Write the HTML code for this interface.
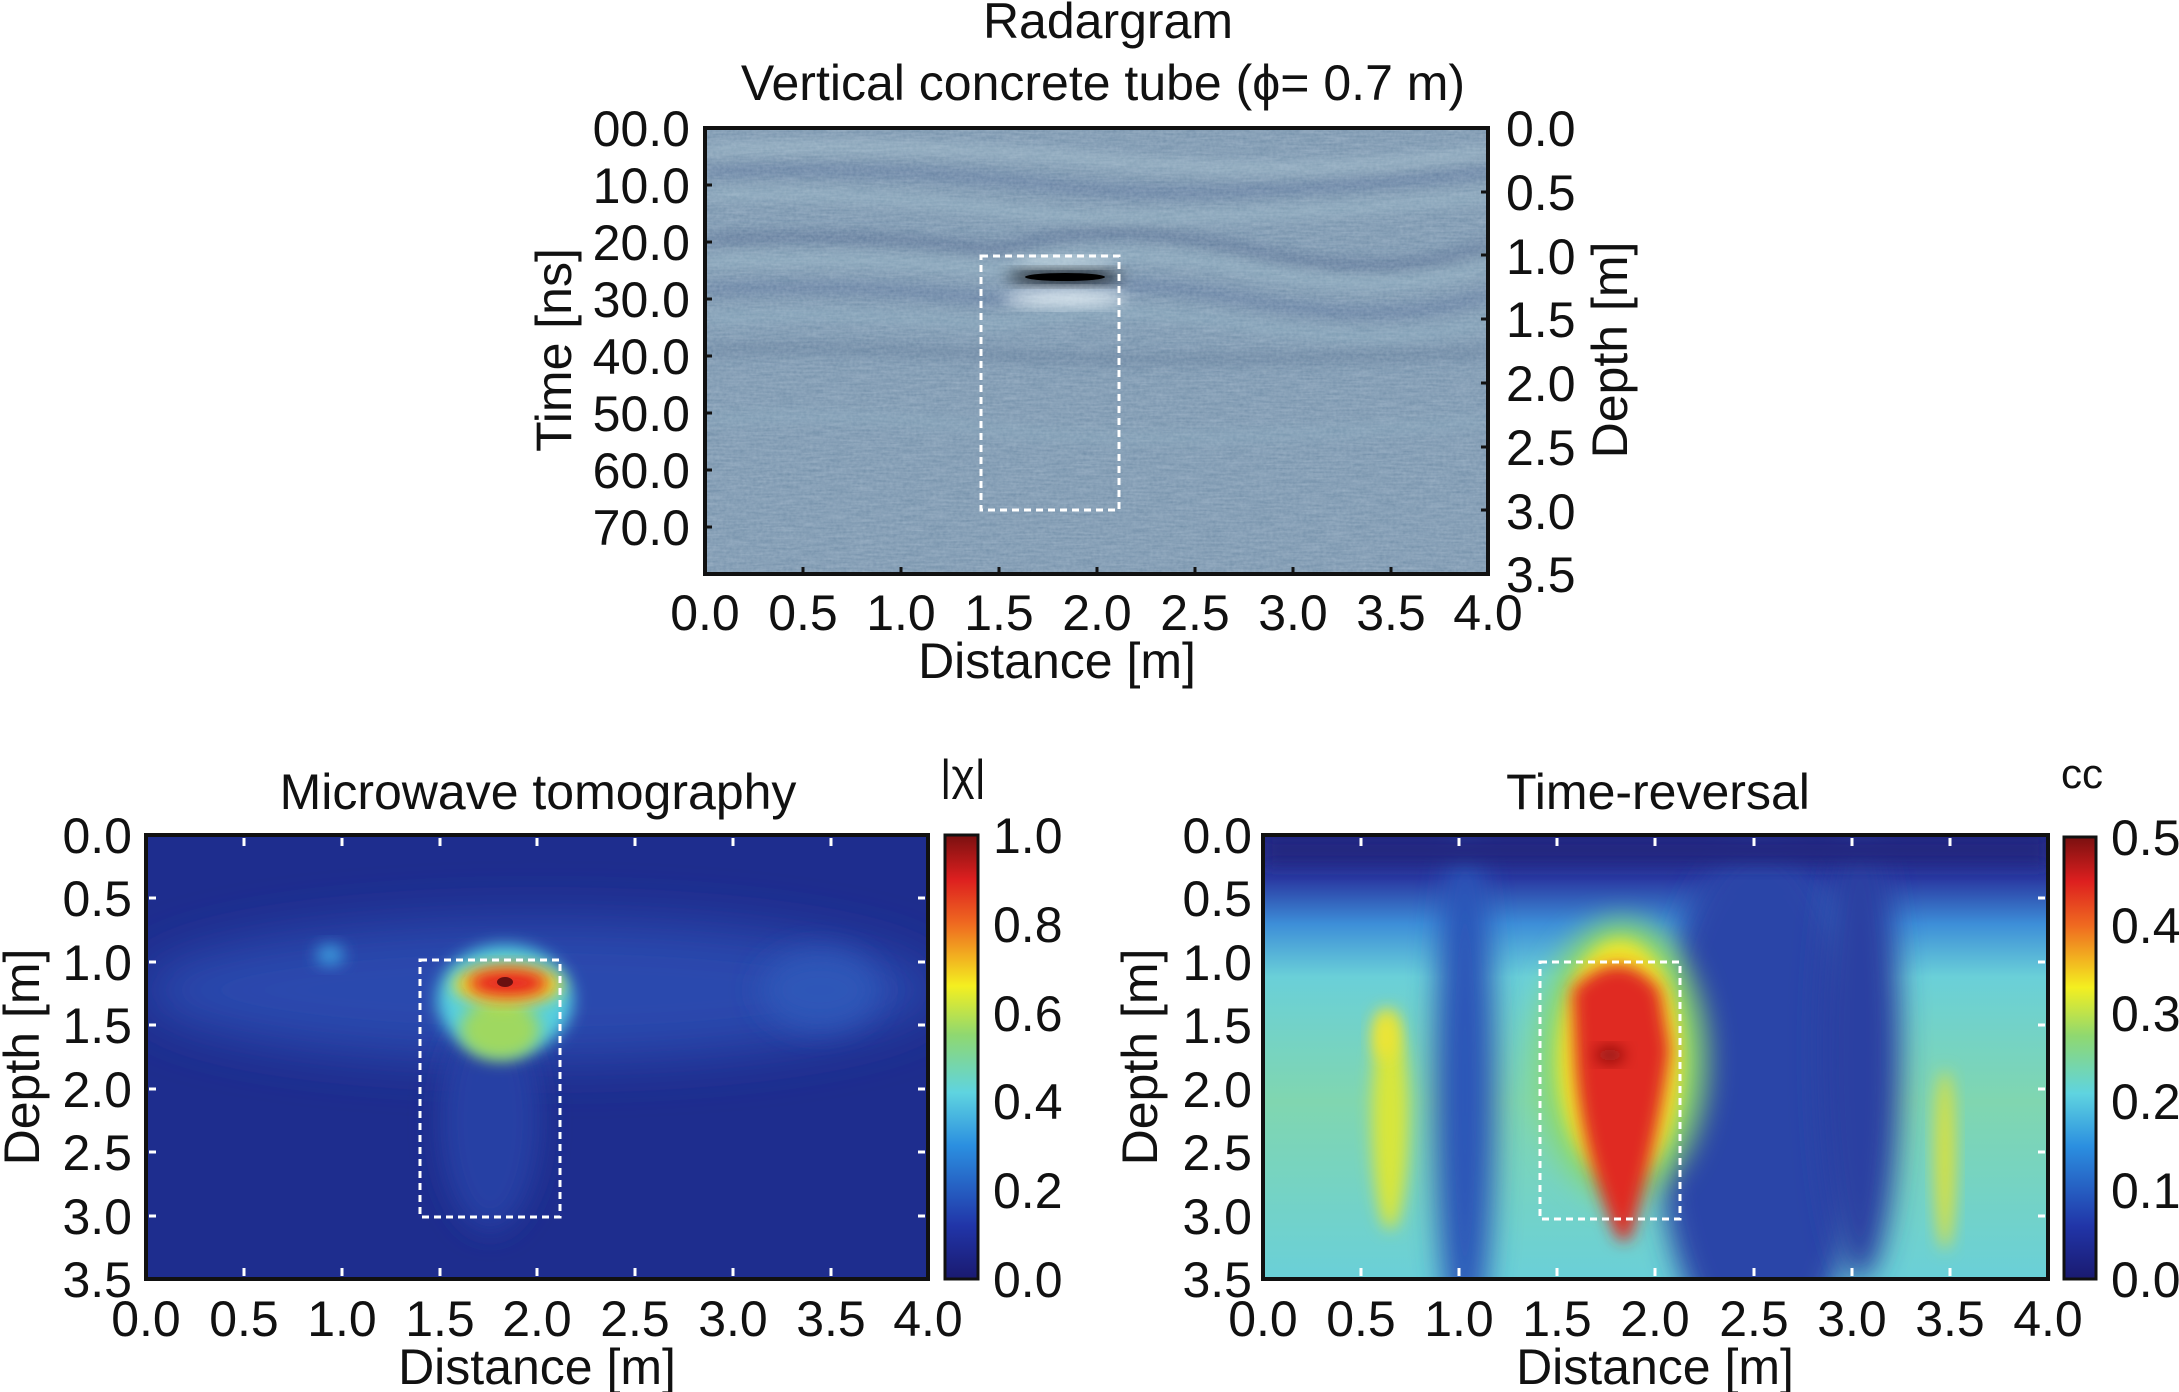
<!DOCTYPE html>
<html><head><meta charset="utf-8"><style>
html,body{margin:0;padding:0;background:#fff;}
svg{display:block;}
text{font-family:"Liberation Sans",sans-serif;fill:#111;}
</style></head><body>
<svg width="2179" height="1392" viewBox="0 0 2179 1392" xmlns="http://www.w3.org/2000/svg">
<defs>
<filter id="b8" x="-50%" y="-50%" width="200%" height="200%"><feGaussianBlur stdDeviation="8"/></filter>
<filter id="b14" x="-50%" y="-50%" width="200%" height="200%"><feGaussianBlur stdDeviation="14"/></filter>
<filter id="b25" x="-50%" y="-50%" width="200%" height="200%"><feGaussianBlur stdDeviation="25"/></filter>
<filter id="bx" x="-50%" y="-50%" width="200%" height="200%"><feGaussianBlur stdDeviation="14 6"/></filter>
<filter id="noise"><feTurbulence type="fractalNoise" baseFrequency="0.04 0.5" numOctaves="3" seed="3"/><feColorMatrix type="matrix" values="0 0 0 0 0.42  0 0 0 0 0.52  0 0 0 0 0.64  0 0 0 0.55 0"/></filter>
<filter id="noise2"><feTurbulence type="fractalNoise" baseFrequency="0.3" numOctaves="2" seed="7"/><feColorMatrix type="matrix" values="0 0 0 0 0.6  0 0 0 0 0.72  0 0 0 0 0.8  0 0 0 0.3 -0.05"/></filter>
<linearGradient id="jet" x1="0" y1="1" x2="0" y2="0">
<stop offset="0" stop-color="#1a1a70"/><stop offset="0.12" stop-color="#2135a8"/><stop offset="0.3" stop-color="#2b8fe0"/><stop offset="0.42" stop-color="#5fd4e0"/><stop offset="0.55" stop-color="#8fd870"/><stop offset="0.66" stop-color="#f4ef20"/><stop offset="0.8" stop-color="#ef6a20"/><stop offset="0.9" stop-color="#dd1f1f"/><stop offset="1" stop-color="#7a1010"/>
</linearGradient>
<linearGradient id="trbg" x1="0" y1="0" x2="0" y2="1">
<stop offset="0" stop-color="#222a8a"/><stop offset="0.1" stop-color="#2a3aa2"/><stop offset="0.2" stop-color="#3d8ed8"/><stop offset="0.32" stop-color="#6ad0d8"/><stop offset="0.6" stop-color="#80d6b0"/><stop offset="1" stop-color="#6ad0d8"/>
</linearGradient>
<clipPath id="c1"><rect x="705" y="128" width="783" height="446"/></clipPath>
<clipPath id="c2"><rect x="146" y="835" width="782" height="444"/></clipPath>
<clipPath id="c3"><rect x="1263" y="835" width="785" height="444"/></clipPath>
</defs>

<!-- ============ Radargram ============ -->
<g clip-path="url(#c1)">
<rect x="705" y="128" width="783" height="446" fill="#6f8ca6"/>
<rect x="705" y="128" width="783" height="446" filter="url(#noise)"/>
<g filter="url(#bx)" fill="none" stroke-width="8" opacity="0.75">
<path d="M700 150 Q900 140 1100 160 T1500 150" stroke="#a9c3d0"/>
<path d="M700 172 Q900 165 1050 185 T1500 170" stroke="#56709a"/>
<path d="M700 195 Q850 190 1000 210 T1500 195" stroke="#9fbccb"/>
<path d="M700 240 Q850 230 1000 250 Q1100 215 1250 250 T1500 240" stroke="#4b628a"/>
<path d="M700 262 Q850 255 1000 270 Q1100 240 1250 270 T1500 262" stroke="#9dbccb"/>
<path d="M700 290 Q850 282 1000 300 Q1100 270 1250 300 T1500 290" stroke="#56709a"/>
<path d="M700 318 Q850 310 1000 325 Q1100 300 1250 325 T1500 318" stroke="#90b0c3"/>
<path d="M700 350 Q850 345 1000 355 T1500 352" stroke="#5e7897"/>
<path d="M700 420 Q850 410 1000 430 T1500 420" stroke="#87a6bb"/>
</g>
<rect x="705" y="128" width="783" height="446" filter="url(#noise2)"/>
<ellipse cx="1065" cy="277" rx="58" ry="6" fill="#0a0a10" filter="url(#b8)"/>
<ellipse cx="1065" cy="277" rx="40" ry="4" fill="#000"/>
<ellipse cx="1065" cy="298" rx="62" ry="7" fill="#f2fbff" filter="url(#b8)"/>
<ellipse cx="1065" cy="262" rx="50" ry="4" fill="#e0f0f4" filter="url(#b8)"/>
</g>
<rect x="981" y="256" width="138" height="254" fill="none" stroke="#fff" stroke-width="3" stroke-dasharray="7 5"/>
<rect x="705" y="128" width="783" height="446" fill="none" stroke="#111" stroke-width="4"/>
<g stroke="#111" stroke-width="3">
<path d="M705 185h7M705 242h7M705 299h7M705 356h7M705 413h7M705 470h7M705 527h7"/>
<path d="M1488 192h-7M1488 255h-7M1488 319h-7M1488 383h-7M1488 447h-7M1488 510h-7"/>
<path d="M803 574v-7M901 574v-7M999 574v-7M1097 574v-7M1195 574v-7M1293 574v-7M1391 574v-7"/>
</g>
<g font-size="50" text-anchor="end">
<text x="690" y="146">00.0</text><text x="690" y="203">10.0</text><text x="690" y="260">20.0</text><text x="690" y="317">30.0</text><text x="690" y="374">40.0</text><text x="690" y="431">50.0</text><text x="690" y="488">60.0</text><text x="690" y="545">70.0</text>
</g>
<g font-size="50">
<text x="1506" y="146">0.0</text><text x="1506" y="210">0.5</text><text x="1506" y="274">1.0</text><text x="1506" y="337">1.5</text><text x="1506" y="401">2.0</text><text x="1506" y="465">2.5</text><text x="1506" y="529">3.0</text><text x="1506" y="592">3.5</text>
</g>
<g font-size="50" text-anchor="middle">
<text x="705" y="630">0.0</text><text x="803" y="630">0.5</text><text x="901" y="630">1.0</text><text x="999" y="630">1.5</text><text x="1097" y="630">2.0</text><text x="1195" y="630">2.5</text><text x="1293" y="630">3.0</text><text x="1391" y="630">3.5</text><text x="1488" y="630">4.0</text>
<text x="1057" y="678">Distance [m]</text>
<text x="1108" y="38">Radargram</text>
<text x="1103" y="100">Vertical concrete tube (ϕ= 0.7 m)</text>
<text transform="translate(571,350) rotate(-90)">Time [ns]</text>
<text transform="translate(1627,350) rotate(-90)">Depth [m]</text>
</g>

<!-- ============ Microwave tomography ============ -->
<g clip-path="url(#c2)">
<rect x="146" y="835" width="782" height="444" fill="#1e2d8e"/>
<ellipse cx="540" cy="990" rx="400" ry="70" fill="#2a4aae" filter="url(#b25)"/>
<ellipse cx="330" cy="955" rx="14" ry="10" fill="#3da0e0" filter="url(#b8)"/>
<ellipse cx="820" cy="990" rx="60" ry="40" fill="#2d56b8" filter="url(#b14)"/>
<ellipse cx="490" cy="1120" rx="50" ry="110" fill="#2540a4" filter="url(#b14)"/>
<ellipse cx="505" cy="1000" rx="68" ry="55" fill="#55cfe0" filter="url(#b8)"/>
<ellipse cx="500" cy="1030" rx="40" ry="30" fill="#9fd860" filter="url(#b8)"/>
<ellipse cx="508" cy="985" rx="55" ry="20" fill="#f2e020" filter="url(#b8)"/>
<ellipse cx="508" cy="983" rx="40" ry="14" fill="#e82020" filter="url(#b8)"/>
<ellipse cx="505" cy="982" rx="8" ry="5" fill="#6a1010"/>
</g>
<rect x="420" y="960" width="140" height="257" fill="none" stroke="#fff" stroke-width="3" stroke-dasharray="7 5"/>
<rect x="146" y="835" width="782" height="444" fill="none" stroke="#111" stroke-width="4"/>
<g stroke="#fff" stroke-width="3">
<path d="M244 838v8M342 838v8M440 838v8M537 838v8M635 838v8M733 838v8M831 838v8"/>
<path d="M244 1276v-8M342 1276v-8M440 1276v-8M537 1276v-8M635 1276v-8M733 1276v-8M831 1276v-8"/>
<path d="M149 898h7M149 962h7M149 1025h7M149 1089h7M149 1152h7M149 1216h7"/>
<path d="M925 898h-7M925 962h-7M925 1025h-7M925 1089h-7M925 1152h-7M925 1216h-7"/>
</g>
<rect x="945" y="835" width="33" height="444" fill="url(#jet)" stroke="#111" stroke-width="3"/>
<g font-size="50" text-anchor="end">
<text x="132" y="853">0.0</text><text x="132" y="916">0.5</text><text x="132" y="980">1.0</text><text x="132" y="1043">1.5</text><text x="132" y="1107">2.0</text><text x="132" y="1170">2.5</text><text x="132" y="1234">3.0</text><text x="132" y="1297">3.5</text>
</g>
<g font-size="50">
<text x="993" y="853">1.0</text><text x="993" y="942">0.8</text><text x="993" y="1031">0.6</text><text x="993" y="1119">0.4</text><text x="993" y="1208">0.2</text><text x="993" y="1297">0.0</text>
</g>
<g font-size="50" text-anchor="middle">
<text x="146" y="1336">0.0</text><text x="244" y="1336">0.5</text><text x="342" y="1336">1.0</text><text x="440" y="1336">1.5</text><text x="537" y="1336">2.0</text><text x="635" y="1336">2.5</text><text x="733" y="1336">3.0</text><text x="831" y="1336">3.5</text><text x="928" y="1336">4.0</text>
<text x="537" y="1384">Distance [m]</text>
<text x="538" y="809">Microwave tomography</text>
<text x="963" y="790" font-size="44">|χ|</text>
<text transform="translate(39,1057) rotate(-90)">Depth [m]</text>
</g>

<!-- ============ Time reversal ============ -->
<g clip-path="url(#c3)">
<rect x="1263" y="835" width="785" height="444" fill="url(#trbg)"/>
<ellipse cx="1465" cy="1090" rx="30" ry="260" fill="#2a55b8" filter="url(#b14)"/>
<ellipse cx="1760" cy="1100" rx="105" ry="260" fill="#2a44a8" filter="url(#b14)"/>
<ellipse cx="1860" cy="1050" rx="40" ry="230" fill="#2a3fa2" filter="url(#b14)"/>
<ellipse cx="1390" cy="1120" rx="18" ry="110" fill="#d8e63a" filter="url(#b8)"/>
<ellipse cx="1385" cy="1035" rx="12" ry="25" fill="#f0e430" filter="url(#b8)"/>
<ellipse cx="1945" cy="1160" rx="10" ry="90" fill="#d8e040" filter="url(#b8)"/>
<ellipse cx="1622" cy="1060" rx="85" ry="140" fill="#8ad870" filter="url(#b14)"/>
<ellipse cx="1620" cy="1060" rx="62" ry="120" fill="#f2e62a" filter="url(#b8)"/>
<path d="M1572 990 Q1620 940 1660 990 L1670 1050 Q1660 1130 1630 1240 L1618 1240 Q1580 1150 1575 1060 Z" fill="#e02a22" filter="url(#b8)"/>
<ellipse cx="1610" cy="1055" rx="14" ry="7" fill="#7a1010" filter="url(#b8)"/>
<rect x="1263" y="835" width="785" height="30" fill="#202680" filter="url(#b8)"/>
</g>
<rect x="1540" y="962" width="140" height="257" fill="none" stroke="#fff" stroke-width="3" stroke-dasharray="7 5"/>
<rect x="1263" y="835" width="785" height="444" fill="none" stroke="#111" stroke-width="4"/>
<g stroke="#fff" stroke-width="3">
<path d="M1361 838v8M1459 838v8M1557 838v8M1655 838v8M1754 838v8M1852 838v8M1950 838v8"/>
<path d="M1361 1276v-8M1459 1276v-8M1557 1276v-8M1655 1276v-8M1754 1276v-8M1852 1276v-8M1950 1276v-8"/>
<path d="M2045 898h-7M2045 962h-7M2045 1025h-7M2045 1089h-7M2045 1152h-7M2045 1216h-7"/>
</g>
<rect x="2064" y="837" width="32" height="442" fill="url(#jet)" stroke="#111" stroke-width="3"/>
<g font-size="50" text-anchor="end">
<text x="1252" y="853">0.0</text><text x="1252" y="916">0.5</text><text x="1252" y="980">1.0</text><text x="1252" y="1043">1.5</text><text x="1252" y="1107">2.0</text><text x="1252" y="1170">2.5</text><text x="1252" y="1234">3.0</text><text x="1252" y="1297">3.5</text>
</g>
<g font-size="50">
<text x="2111" y="855">0.5</text><text x="2111" y="943">0.4</text><text x="2111" y="1031">0.3</text><text x="2111" y="1119">0.2</text><text x="2111" y="1208">0.1</text><text x="2111" y="1297">0.0</text>
</g>
<g font-size="50" text-anchor="middle">
<text x="1263" y="1336">0.0</text><text x="1361" y="1336">0.5</text><text x="1459" y="1336">1.0</text><text x="1557" y="1336">1.5</text><text x="1655" y="1336">2.0</text><text x="1754" y="1336">2.5</text><text x="1852" y="1336">3.0</text><text x="1950" y="1336">3.5</text><text x="2048" y="1336">4.0</text>
<text x="1655" y="1384">Distance [m]</text>
<text x="1658" y="809">Time-reversal</text>
<text x="2082" y="788" font-size="42">cc</text>
<text transform="translate(1157,1057) rotate(-90)">Depth [m]</text>
</g>
</svg>
</body></html>
